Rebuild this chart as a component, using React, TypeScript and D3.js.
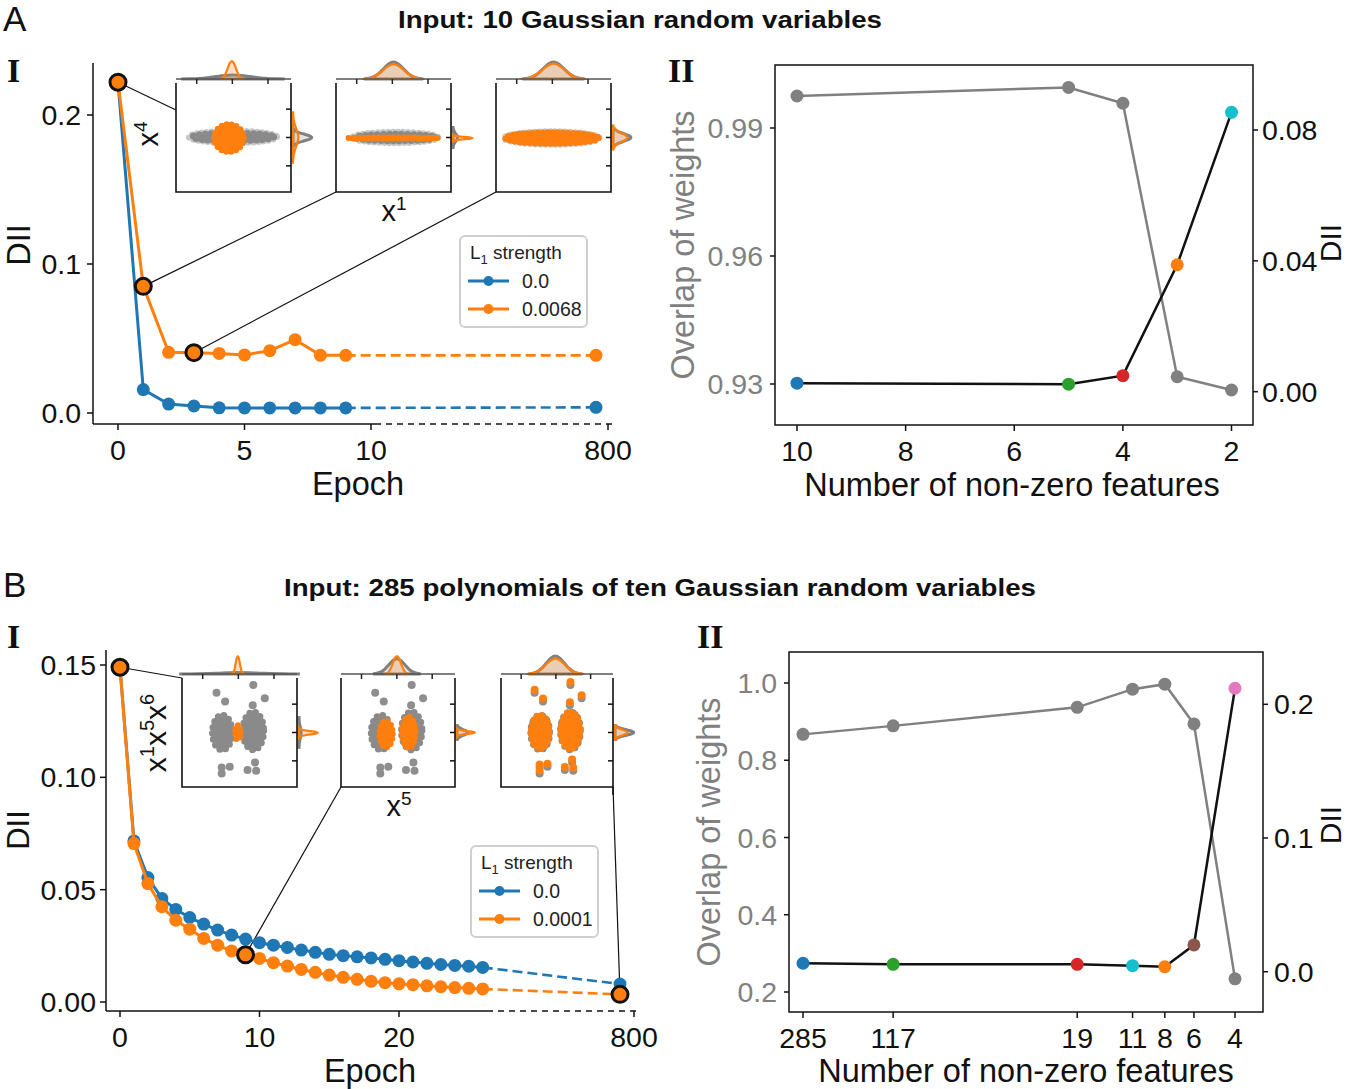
import React from "react";
import * as d3 from "d3";

const SANS = "'Liberation Sans', Arial, Helvetica, sans-serif";
const SERIF = "'Liberation Serif', 'Times New Roman', serif";
const BLUE = "#1f77b4";
const ORANGE = "#ff7f0e";
const GRAY = "#808080";

// ---------------- Panel A-I : DII vs epoch ----------------
const epochsA = [0, 1, 2, 3, 4, 5, 6, 7, 8, 9];
const diiA_l0 = [0.222, 0.0157, 0.006, 0.0047, 0.0035, 0.0034, 0.0034, 0.0034, 0.0034, 0.0034];
const diiA_l1 = [0.222, 0.085, 0.0407, 0.0405, 0.04, 0.039, 0.0418, 0.0492, 0.0387, 0.0387];
const lastEpoch = 799;
const diiA_l0_last = 0.0038;
const diiA_l1_last = 0.0387;
const highlightA = [0, 1, 3];
const xTicksA = [0, 5, 10];
const yTicksA = [0, 0.1, 0.2];
const yTickLabelsA = ["0.0", "0.1", "0.2"];
const legendA = ["0.0", "0.0068"];

// ---------------- Panel B-I ----------------
const epochsB = [0, 1, 2, 3, 4, 5, 6, 7, 8, 9, 10, 11, 12, 13, 14, 15, 16, 17, 18, 19, 20, 21, 22, 23, 24, 25, 26];
const diiB_l0 = [0.149, 0.0717, 0.0554, 0.0461, 0.0412, 0.0376, 0.0347, 0.032, 0.0298, 0.028, 0.0264, 0.0253, 0.0243, 0.0231, 0.0221, 0.0212, 0.0206, 0.0201, 0.0196, 0.019, 0.0184, 0.0178, 0.0172, 0.0167, 0.0163, 0.0159, 0.0154];
const diiB_l1 = [0.149, 0.0705, 0.0527, 0.0424, 0.0364, 0.0324, 0.0283, 0.0253, 0.0227, 0.021, 0.0194, 0.0175, 0.016, 0.0145, 0.0132, 0.012, 0.011, 0.0101, 0.0092, 0.0086, 0.0081, 0.0077, 0.0072, 0.0068, 0.0064, 0.0061, 0.0058];
const diiB_l0_last = 0.008;
const diiB_l1_last = 0.0034;
const highlightB = [0, 9];
const xTicksB = [0, 10, 20];
const yTicksB = [0, 0.05, 0.1, 0.15];
const yTickLabelsB = ["0.00", "0.05", "0.10", "0.15"];
const legendB = ["0.0", "0.0001"];

// ---------------- Panel A-II ----------------
const featA = [10, 5, 4, 3, 2];
const overlapA = [0.9975, 0.9995, 0.9958, 0.9317, 0.9286];
const diiA2 = [0.0026, 0.0023, 0.0049, 0.0388, 0.0854];
const colorsA2 = ["#1f77b4", "#2ca02c", "#d62728", "#ff7f0e", "#17becf"];
const xTicksA2 = [10, 8, 6, 4, 2];
const yLTicksA2 = [0.93, 0.96, 0.99];
const yRTicksA2 = [0, 0.04, 0.08];

// ---------------- Panel B-II ----------------
const featB = [285, 117, 19, 11, 8, 6, 4];
const overlapB = [0.867, 0.889, 0.937, 0.984, 0.997, 0.894, 0.234];
const diiB2 = [0.0063, 0.0055, 0.0055, 0.0045, 0.0037, 0.02, 0.212];
const colorsB2 = ["#1f77b4", "#2ca02c", "#d62728", "#17becf", "#ff7f0e", "#8c564b", "#e377c2"];
const yLTicksB2 = [0.2, 0.4, 0.6, 0.8, 1.0];
const yRTicksB2 = [0, 0.1, 0.2];

// ---------------- Insets (normalised units, -1..1) ----------------
const kdeProfile = [[-3, 0], [-2.5, 0.044], [-2, 0.135], [-1.5, 0.325], [-1, 0.607], [-0.5, 0.882], [0, 1], [0.5, 0.882], [1, 0.607], [1.5, 0.325], [2, 0.135], [2.5, 0.044], [3, 0]];

const cloudsA = [
  { gray: [{ u: -0.01, v: 0.01, rx: 0.82, ry: 0.17 }], orange: [{ u: -0.08, v: -0.01, rx: 0.31, ry: 0.31 }] },
  { gray: [{ u: 0.03, v: 0.0, rx: 0.8, ry: 0.16 }], orange: [{ u: -0.01, v: -0.01, rx: 0.83, ry: 0.05 }] },
  { gray: [{ u: -0.03, v: -0.01, rx: 0.88, ry: 0.18 }], orange: [{ u: -0.03, v: -0.01, rx: 0.87, ry: 0.16 }] },
];
const topMargA = [
  { gray: { c: -0.01, s: 0.3, h: 0.22 }, orange: { c: -0.03, s: 0.07, h: 1.0 } },
  { gray: { c: 0.0, s: 0.17, h: 0.95 }, orange: { c: 0.0, s: 0.18, h: 0.82 } },
  { gray: { c: 0.0, s: 0.18, h: 0.95 }, orange: { c: 0.0, s: 0.19, h: 0.85 } },
];
const rightMargA = [
  { gray: { c: 0, s: 0.06, h: 1.05 }, orange: { c: 0, s: 0.16, h: 0.3 } },
  { gray: { c: 0, s: 0.07, h: 0.25 }, orange: { c: -0.01, s: 0.02, h: 1.1 } },
  { gray: { c: 0, s: 0.07, h: 1.0 }, orange: { c: 0, s: 0.08, h: 0.8 } },
];

const grayLobesB = [{ u: -0.3, v: 0.0, rx: 0.23, ry: 0.38 }, { u: 0.24, v: 0.03, rx: 0.24, ry: 0.41 }];
const cloudsB = [
  { gray: grayLobesB, orange: [{ u: -0.03, v: 0.0, rx: 0.1, ry: 0.19 }] },
  { gray: grayLobesB, orange: [{ u: -0.21, v: -0.03, rx: 0.17, ry: 0.3 }, { u: 0.19, v: 0.0, rx: 0.17, ry: 0.34 }] },
  { gray: grayLobesB, orange: [{ u: -0.3, v: 0.01, rx: 0.22, ry: 0.37 }, { u: 0.24, v: 0.04, rx: 0.23, ry: 0.4 }] },
];
const outliersB = [[-0.4, 0.73], [0.24, 0.87], [0.44, 0.63], [-0.25, 0.57], [0.23, 0.5], [-0.31, -0.64], [-0.17, -0.63], [-0.31, -0.75], [0.14, -0.69], [0.29, -0.7], [0.27, -0.55]];
const topMargB = [
  { gray: { c: 0, s: 0.35, h: 0.08 }, orange: { c: -0.03, s: 0.035, h: 1.0 } },
  { gray: { c: -0.02, s: 0.14, h: 0.85 }, orange: { c: -0.02, s: 0.07, h: 1.0 } },
  { gray: { c: -0.03, s: 0.16, h: 1.0 }, orange: { c: -0.03, s: 0.17, h: 0.85 } },
];
const rightMargB = [
  { gray: { c: 0, s: 0.1, h: 0.12 }, orange: { c: -0.005, s: 0.03, h: 1.05 } },
  { gray: { c: 0, s: 0.05, h: 0.6 }, orange: { c: 0, s: 0.025, h: 1.0 } },
  { gray: { c: 0, s: 0.05, h: 1.05 }, orange: { c: 0, s: 0.05, h: 0.7 } },
];

type Box = { x0: number; y0: number; x1: number; y1: number };

function Inset(props: any) {
  const { box, clouds, top, right, outliers, orangeOutliers, halo, extendRight } = props;
  const cx = (box.x0 + box.x1) / 2;
  const cy = (box.y0 + box.y1) / 2;
  const hw = (box.x1 - box.x0) / 2;
  const hh = (box.y1 - box.y0) / 2;
  const X = (u: number) => cx + u * hw;
  const Y = (v: number) => cy - v * hh;
  const topBase = box.y0 - 4;
  const rightBase = box.x1 + 2;
  const M = 18;
  const topArea = (m: any) =>
    d3.area<number[]>().x((p) => X(m.c + p[0] * m.s)).y0(topBase).y1((p) => topBase - p[1] * m.h * M).curve(d3.curveMonotoneX)(kdeProfile as any);
  const revProfile = kdeProfile.slice().reverse();
  const rightArea = (m: any) =>
    d3.area<number[]>().y((p) => Y(m.c + p[0] * m.s)).x0(rightBase).x1((p) => rightBase + p[1] * m.h * M).curve(d3.curveMonotoneY)(revProfile as any);
  const topTicks = [0.18, 0.49, 0.8];
  const rightTicks = [0.24, 0.5, 0.76];
  const bump = (col: string, w: number) => ({ fill: col, stroke: col, strokeWidth: w, strokeDasharray: `0 ${w - 1}`, strokeLinecap: "round" as const });
  const R = (val: number, sw: number) => Math.max(0.5, val - sw / 2);
  return (
    <g>
      <path d={topArea(top.gray) || ""} fill="rgba(128,128,128,0.22)" stroke={GRAY} strokeWidth={3} />
      <path d={topArea(top.orange) || ""} fill="rgba(255,127,14,0.22)" stroke={ORANGE} strokeWidth={2.2} />
      <path d={rightArea(right.gray) || ""} fill="rgba(128,128,128,0.22)" stroke={GRAY} strokeWidth={3} />
      <path d={rightArea(right.orange) || ""} fill="rgba(255,127,14,0.22)" stroke={ORANGE} strokeWidth={2.2} />
      <line x1={box.x0} x2={box.x1} y1={topBase} y2={topBase} stroke="#555" strokeWidth={1.6} />
      {topTicks.map((f, i) => (
        <line key={"tt" + i} x1={box.x0 + f * 2 * hw} x2={box.x0 + f * 2 * hw} y1={topBase} y2={topBase + 5} stroke="#222" strokeWidth={1.5} />
      ))}
      <path d={`M${box.x0},${box.y0}V${box.y1}H${box.x1}V${box.y0}`} fill="none" stroke="#111" strokeWidth={1.6} />
      {extendRight && <line x1={box.x1} x2={box.x1} y1={box.y1} y2={box.y1 + 8} stroke="#111" strokeWidth={1.6} />}
      {rightTicks.map((f, i) => (
        <line key={"rt" + i} x1={box.x1 - 5} x2={box.x1} y1={box.y0 + f * 2 * hh} y2={box.y0 + f * 2 * hh} stroke="#111" strokeWidth={1.5} />
      ))}
      {halo &&
        clouds.gray.map((c: any, i: number) => (
          <ellipse key={"h" + i} cx={X(c.u)} cy={Y(c.v)} rx={R(c.rx * hw, 6)} ry={R(c.ry * hh, 6)} {...bump("#c6c6c6", 6)} />
        ))}
      {clouds.gray.map((c: any, i: number) => (
        <ellipse key={"g" + i} cx={X(c.u)} cy={Y(c.v)} rx={R(c.rx * hw - (halo ? 3 : 0), 7)} ry={R(c.ry * hh - (halo ? 2 : 0), 7)} {...bump("#8a8a8a", 7)} />
      ))}
      {outliers &&
        outliers.map((p: number[], i: number) => <circle key={"o" + i} cx={X(p[0])} cy={Y(p[1])} r={4} fill="#8e8e8e" />)}
      {clouds.orange.map((c: any, i: number) => (
        <ellipse key={"or" + i} cx={X(c.u)} cy={Y(c.v)} rx={R(c.rx * hw, 6)} ry={R(c.ry * hh, 6)} {...bump(ORANGE, 6)} />
      ))}
      {orangeOutliers &&
        orangeOutliers.map((p: number[], i: number) => <circle key={"oo" + i} cx={X(p[0])} cy={Y(p[1]) - 3} r={4} fill={ORANGE} />)}
    </g>
  );
}

function EpochSeries(props: any) {
  const { epochs, vals, lastVal, color, fx, y } = props;
  const pts: [number, number][] = epochs.map((e: number, i: number) => [fx(e), y(vals[i])]);
  const last: [number, number] = [fx(lastEpoch), y(lastVal)];
  const line = d3.line();
  return (
    <g>
      <path d={line(pts) || ""} fill="none" stroke={color} strokeWidth={3} />
      <path d={line([pts[pts.length - 1], last]) || ""} fill="none" stroke={color} strokeWidth={2.6} strokeDasharray="10 5" />
      {pts.map((p, i) => (
        <circle key={i} cx={p[0]} cy={p[1]} r={6.5} fill={color} />
      ))}
      <circle cx={last[0]} cy={last[1]} r={6.5} fill={color} />
    </g>
  );
}

function Legend(props: any) {
  const { x, y, labels } = props;
  const cols = [BLUE, ORANGE];
  return (
    <g>
      <rect x={x} y={y} width={127} height={91} rx={5} fill="rgba(255,255,255,0.85)" stroke="#cfcfcf" strokeWidth={2} />
      <text x={x + 10} y={y + 23} fontSize={19} fill="#222">
        L<tspan fontSize={13} dy={5}>1</tspan>
        <tspan dy={-5}> strength</tspan>
      </text>
      {labels.map((l: string, i: number) => (
        <g key={i}>
          <line x1={x + 8} x2={x + 49} y1={y + 45 + i * 28} y2={y + 45 + i * 28} stroke={cols[i]} strokeWidth={3} />
          <circle cx={x + 28.5} cy={y + 45 + i * 28} r={5} fill={cols[i]} />
          <text x={x + 62} y={y + 52 + i * 28} fontSize={19.5} fill="#222">
            {l}
          </text>
        </g>
      ))}
    </g>
  );
}

export default function App() {
  // A-I scales
  const yA = d3.scaleLinear().domain([0, 0.2]).range([413, 115]);
  const xA = d3.scaleLinear().domain([0, 10]).range([118, 371]);
  const xAt = d3.scaleLinear().domain([799, 800]).range([596, 608]);
  const fxA = (e: number) => (e > 100 ? xAt(e) : xA(e));
  // B-I scales
  const yB = d3.scaleLinear().domain([0, 0.15]).range([1002, 665]);
  const xB = d3.scaleLinear().domain([0, 20]).range([120, 399]);
  const xBt = d3.scaleLinear().domain([799, 800]).range([620, 634]);
  const fxB = (e: number) => (e > 100 ? xBt(e) : xB(e));
  // A-II
  const xA2 = d3.scaleLinear().domain([10, 2]).range([797, 1231.5]);
  const yA2L = d3.scaleLinear().domain([0.93, 0.99]).range([384, 128]);
  const yA2R = d3.scaleLinear().domain([0, 0.08]).range([391.7, 130]);
  // B-II
  const xB2 = d3.scaleLog().domain([285, 4]).range([803, 1235]);
  const yB2L = d3.scaleLinear().domain([0.2, 1.0]).range([992, 683]);
  const yB2R = d3.scaleLinear().domain([0, 0.2]).range([971.7, 704.3]);

  const line = d3.line();

  const insetBoxesA: Box[] = [
    { x0: 176, y0: 83, x1: 291, y1: 192 },
    { x0: 336, y0: 83, x1: 451, y1: 192 },
    { x0: 496, y0: 83, x1: 611, y1: 192 },
  ];
  const insetBoxesB: Box[] = [
    { x0: 182, y0: 678, x1: 297, y1: 787 },
    { x0: 341, y0: 678, x1: 455, y1: 787 },
    { x0: 501, y0: 678, x1: 613, y1: 787 },
  ];

  const hiA = highlightA.map((e) => [fxA(e), yA(diiA_l1[e])]);
  const hiB = highlightB.map((e) => [fxB(e), yB(diiB_l1[e])]);
  const hiBLast = [fxB(lastEpoch), yB(diiB_l1_last)];

  const tickFS = 28.5;
  const labFS = 32.5;
  const tdy = 10;

  return (
    <svg width={1350} height={1089} viewBox="0 0 1350 1089" style={{ position: "absolute", left: 0, top: 0, background: "#fff" }} fontFamily={SANS}>
      <rect width={1350} height={1089} fill="#fff" />
      {/* Panel letters and titles */}
      <text x={3} y={31} fontSize={35} fill="#111">A</text>
      <text x={640} y={28} fontSize={23} fontWeight="bold" textAnchor="middle" fill="#111" textLength={484} lengthAdjust="spacingAndGlyphs">
        Input: 10 Gaussian random variables
      </text>
      <text x={3} y={597} fontSize={35} fill="#111">B</text>
      <text x={660} y={596} fontSize={23} fontWeight="bold" textAnchor="middle" fill="#111" textLength={752} lengthAdjust="spacingAndGlyphs">
        Input: 285 polynomials of ten Gaussian random variables
      </text>
      <text x={7} y={82} fontSize={34} fontFamily={SERIF} fontWeight="bold" fill="#111">I</text>
      <text x={668} y={82} fontSize={34} fontFamily={SERIF} fontWeight="bold" fill="#111">II</text>
      <text x={7} y={648} fontSize={34} fontFamily={SERIF} fontWeight="bold" fill="#111">I</text>
      <text x={697} y={648} fontSize={34} fontFamily={SERIF} fontWeight="bold" fill="#111">II</text>

      {/* ============ A-I ============ */}
      <g>
        <line x1={93} x2={93} y1={63} y2={424} stroke="#111" strokeWidth={1.5} />
        <line x1={93} x2={375} y1={424} y2={424} stroke="#111" strokeWidth={1.5} />
        <line x1={375} x2={612} y1={424} y2={424} stroke="#111" strokeWidth={1.5} strokeDasharray="6 5" />
        {yTicksA.map((t, i) => (
          <g key={i}>
            <line x1={87} x2={93} y1={yA(t)} y2={yA(t)} stroke="#111" strokeWidth={1.5} />
            <text x={81} y={yA(t) + tdy} fontSize={tickFS} textAnchor="end" fill="#111">{yTickLabelsA[i]}</text>
          </g>
        ))}
        {xTicksA.map((t, i) => (
          <g key={i}>
            <line x1={xA(t)} x2={xA(t)} y1={424} y2={430} stroke="#111" strokeWidth={1.5} />
            <text x={xA(t)} y={460} fontSize={tickFS} textAnchor="middle" fill="#111">{String(t)}</text>
          </g>
        ))}
        <line x1={xAt(800)} x2={xAt(800)} y1={424} y2={430} stroke="#111" strokeWidth={1.5} />
        <text x={xAt(800)} y={460} fontSize={tickFS} textAnchor="middle" fill="#111">800</text>
        <text x={358} y={495} fontSize={labFS} textAnchor="middle" fill="#111">Epoch</text>
        <text transform="translate(30,245) rotate(-90)" fontSize={labFS} textAnchor="middle" fill="#111">DII</text>

        {/* connectors */}
        <line x1={hiA[0][0]} y1={hiA[0][1]} x2={insetBoxesA[0].x0} y2={insetBoxesA[0].y0 + 27} stroke="#111" strokeWidth={1.2} />
        <line x1={hiA[1][0]} y1={hiA[1][1]} x2={insetBoxesA[1].x0} y2={insetBoxesA[1].y1} stroke="#111" strokeWidth={1.2} />
        <line x1={hiA[2][0]} y1={hiA[2][1]} x2={insetBoxesA[2].x0} y2={insetBoxesA[2].y1} stroke="#111" strokeWidth={1.2} />

        <EpochSeries epochs={epochsA} vals={diiA_l0} lastVal={diiA_l0_last} color={BLUE} fx={fxA} y={yA} />
        <EpochSeries epochs={epochsA} vals={diiA_l1} lastVal={diiA_l1_last} color={ORANGE} fx={fxA} y={yA} />
        {hiA.map((p, i) => (
          <circle key={i} cx={p[0]} cy={p[1]} r={8} fill={ORANGE} stroke="#111" strokeWidth={3} />
        ))}

        {insetBoxesA.map((b, i) => (
          <Inset key={i} box={b} clouds={cloudsA[i]} top={topMargA[i]} right={rightMargA[i]} halo={true} />
        ))}
        <text transform="translate(158,134) rotate(-90)" fontSize={29} textAnchor="middle" fill="#111">
          x<tspan fontSize={19} dy={-11}>4</tspan>
        </text>
        <text x={394} y={221} fontSize={29} textAnchor="middle" fill="#111">
          x<tspan fontSize={19} dy={-11}>1</tspan>
        </text>
        <Legend x={460} y={236} labels={legendA} />
      </g>

      {/* ============ A-II ============ */}
      <g>
        <rect x={775} y={65} width={478} height={360} fill="none" stroke="#111" strokeWidth={1.5} />
        {yLTicksA2.map((t, i) => (
          <g key={i}>
            <line x1={770} x2={775} y1={yA2L(t)} y2={yA2L(t)} stroke="#111" strokeWidth={1.5} />
            <text x={763} y={yA2L(t) + tdy} fontSize={tickFS} textAnchor="end" fill={GRAY}>{t.toFixed(2)}</text>
          </g>
        ))}
        {yRTicksA2.map((t, i) => (
          <g key={i}>
            <line x1={1253} x2={1258} y1={yA2R(t)} y2={yA2R(t)} stroke="#111" strokeWidth={1.5} />
            <text x={1262} y={yA2R(t) + tdy} fontSize={tickFS} fill="#111">{t.toFixed(2)}</text>
          </g>
        ))}
        {xTicksA2.map((t, i) => (
          <g key={i}>
            <line x1={xA2(t)} x2={xA2(t)} y1={425} y2={431} stroke="#111" strokeWidth={1.5} />
            <text x={xA2(t)} y={461} fontSize={tickFS} textAnchor="middle" fill="#111">{String(t)}</text>
          </g>
        ))}
        <text x={1012} y={496} fontSize={labFS} textAnchor="middle" fill="#111">Number of non-zero features</text>
        <text transform="translate(694,245) rotate(-90)" fontSize={labFS} textAnchor="middle" fill={GRAY}>Overlap of weights</text>
        <text transform="translate(1341,243) rotate(-90)" fontSize={30} textAnchor="middle" fill="#111">DII</text>
        <path d={line(featA.map((f, i) => [xA2(f), yA2L(overlapA[i])])) || ""} fill="none" stroke={GRAY} strokeWidth={2.5} />
        <path d={line(featA.map((f, i) => [xA2(f), yA2R(diiA2[i])])) || ""} fill="none" stroke="#111" strokeWidth={2.5} />
        {featA.map((f, i) => (
          <circle key={"g" + i} cx={xA2(f)} cy={yA2L(overlapA[i])} r={6.5} fill={GRAY} />
        ))}
        {featA.map((f, i) => (
          <circle key={"d" + i} cx={xA2(f)} cy={yA2R(diiA2[i])} r={6.5} fill={colorsA2[i]} />
        ))}
      </g>

      {/* ============ B-I ============ */}
      <g>
        <line x1={106} x2={106} y1={650} y2={1011} stroke="#111" strokeWidth={1.5} />
        <line x1={106} x2={487} y1={1011} y2={1011} stroke="#111" strokeWidth={1.5} />
        <line x1={487} x2={637} y1={1011} y2={1011} stroke="#111" strokeWidth={1.5} strokeDasharray="6 5" />
        {yTicksB.map((t, i) => (
          <g key={i}>
            <line x1={100} x2={106} y1={yB(t)} y2={yB(t)} stroke="#111" strokeWidth={1.5} />
            <text x={96} y={yB(t) + tdy} fontSize={tickFS} textAnchor="end" fill="#111">{yTickLabelsB[i]}</text>
          </g>
        ))}
        {xTicksB.map((t, i) => (
          <g key={i}>
            <line x1={xB(t)} x2={xB(t)} y1={1011} y2={1017} stroke="#111" strokeWidth={1.5} />
            <text x={xB(t)} y={1047} fontSize={tickFS} textAnchor="middle" fill="#111">{String(t)}</text>
          </g>
        ))}
        <line x1={xBt(800)} x2={xBt(800)} y1={1011} y2={1017} stroke="#111" strokeWidth={1.5} />
        <text x={xBt(800)} y={1047} fontSize={tickFS} textAnchor="middle" fill="#111">800</text>
        <text x={370} y={1082} fontSize={labFS} textAnchor="middle" fill="#111">Epoch</text>
        <text transform="translate(29,830) rotate(-90)" fontSize={31} textAnchor="middle" fill="#111">DII</text>

        <line x1={hiB[0][0]} y1={hiB[0][1]} x2={insetBoxesB[0].x0} y2={insetBoxesB[0].y0} stroke="#111" strokeWidth={1.2} />
        <line x1={hiB[1][0]} y1={hiB[1][1]} x2={insetBoxesB[1].x0} y2={insetBoxesB[1].y1} stroke="#111" strokeWidth={1.2} />
        <line x1={hiBLast[0]} y1={hiBLast[1]} x2={insetBoxesB[2].x1} y2={insetBoxesB[2].y1} stroke="#111" strokeWidth={1.2} />

        <EpochSeries epochs={epochsB} vals={diiB_l0} lastVal={diiB_l0_last} color={BLUE} fx={fxB} y={yB} />
        <EpochSeries epochs={epochsB} vals={diiB_l1} lastVal={diiB_l1_last} color={ORANGE} fx={fxB} y={yB} />
        {[...hiB, hiBLast].map((p, i) => (
          <circle key={i} cx={p[0]} cy={p[1]} r={8} fill={ORANGE} stroke="#111" strokeWidth={3} />
        ))}

        {insetBoxesB.map((b, i) => (
          <Inset key={i} box={b} clouds={cloudsB[i]} top={topMargB[i]} right={rightMargB[i]} outliers={outliersB} orangeOutliers={i === 2 ? outliersB : null} halo={false} extendRight={i === 2} />
        ))}
        <text transform="translate(166,733) rotate(-90)" fontSize={30} textAnchor="middle" fill="#111">
          x<tspan fontSize={20} dy={-12}>1</tspan>
          <tspan dy={12}>x</tspan>
          <tspan fontSize={20} dy={-12}>5</tspan>
          <tspan dy={12}>x</tspan>
          <tspan fontSize={20} dy={-12}>6</tspan>
        </text>
        <text x={399} y={816} fontSize={29} textAnchor="middle" fill="#111">
          x<tspan fontSize={19} dy={-11}>5</tspan>
        </text>
        <Legend x={471} y={846} labels={legendB} />
      </g>

      {/* ============ B-II ============ */}
      <g>
        <rect x={789} y={652} width={474} height={360} fill="none" stroke="#111" strokeWidth={1.5} />
        {yLTicksB2.map((t, i) => (
          <g key={i}>
            <line x1={784} x2={789} y1={yB2L(t)} y2={yB2L(t)} stroke="#111" strokeWidth={1.5} />
            <text x={777} y={yB2L(t) + tdy} fontSize={tickFS} textAnchor="end" fill={GRAY}>{t.toFixed(1)}</text>
          </g>
        ))}
        {yRTicksB2.map((t, i) => (
          <g key={i}>
            <line x1={1263} x2={1268} y1={yB2R(t)} y2={yB2R(t)} stroke="#111" strokeWidth={1.5} />
            <text x={1274} y={yB2R(t) + tdy} fontSize={tickFS} fill="#111">{t.toFixed(1)}</text>
          </g>
        ))}
        {featB.map((t, i) => (
          <g key={i}>
            <line x1={xB2(t)} x2={xB2(t)} y1={1012} y2={1018} stroke="#111" strokeWidth={1.5} />
            <text x={xB2(t)} y={1048} fontSize={tickFS} textAnchor="middle" fill="#111">{String(t)}</text>
          </g>
        ))}
        <text x={1026} y={1082} fontSize={labFS} textAnchor="middle" fill="#111">Number of non-zero features</text>
        <text transform="translate(720,832) rotate(-90)" fontSize={labFS} textAnchor="middle" fill={GRAY}>Overlap of weights</text>
        <text transform="translate(1341,825) rotate(-90)" fontSize={30} textAnchor="middle" fill="#111">DII</text>
        <path d={line(featB.map((f, i) => [xB2(f), yB2L(overlapB[i])])) || ""} fill="none" stroke={GRAY} strokeWidth={2.5} />
        <path d={line(featB.map((f, i) => [xB2(f), yB2R(diiB2[i])])) || ""} fill="none" stroke="#111" strokeWidth={2.5} />
        {featB.map((f, i) => (
          <circle key={"g" + i} cx={xB2(f)} cy={yB2L(overlapB[i])} r={6.5} fill={GRAY} />
        ))}
        {featB.map((f, i) => (
          <circle key={"d" + i} cx={xB2(f)} cy={yB2R(diiB2[i])} r={6.5} fill={colorsB2[i]} />
        ))}
      </g>
    </svg>
  );
}
